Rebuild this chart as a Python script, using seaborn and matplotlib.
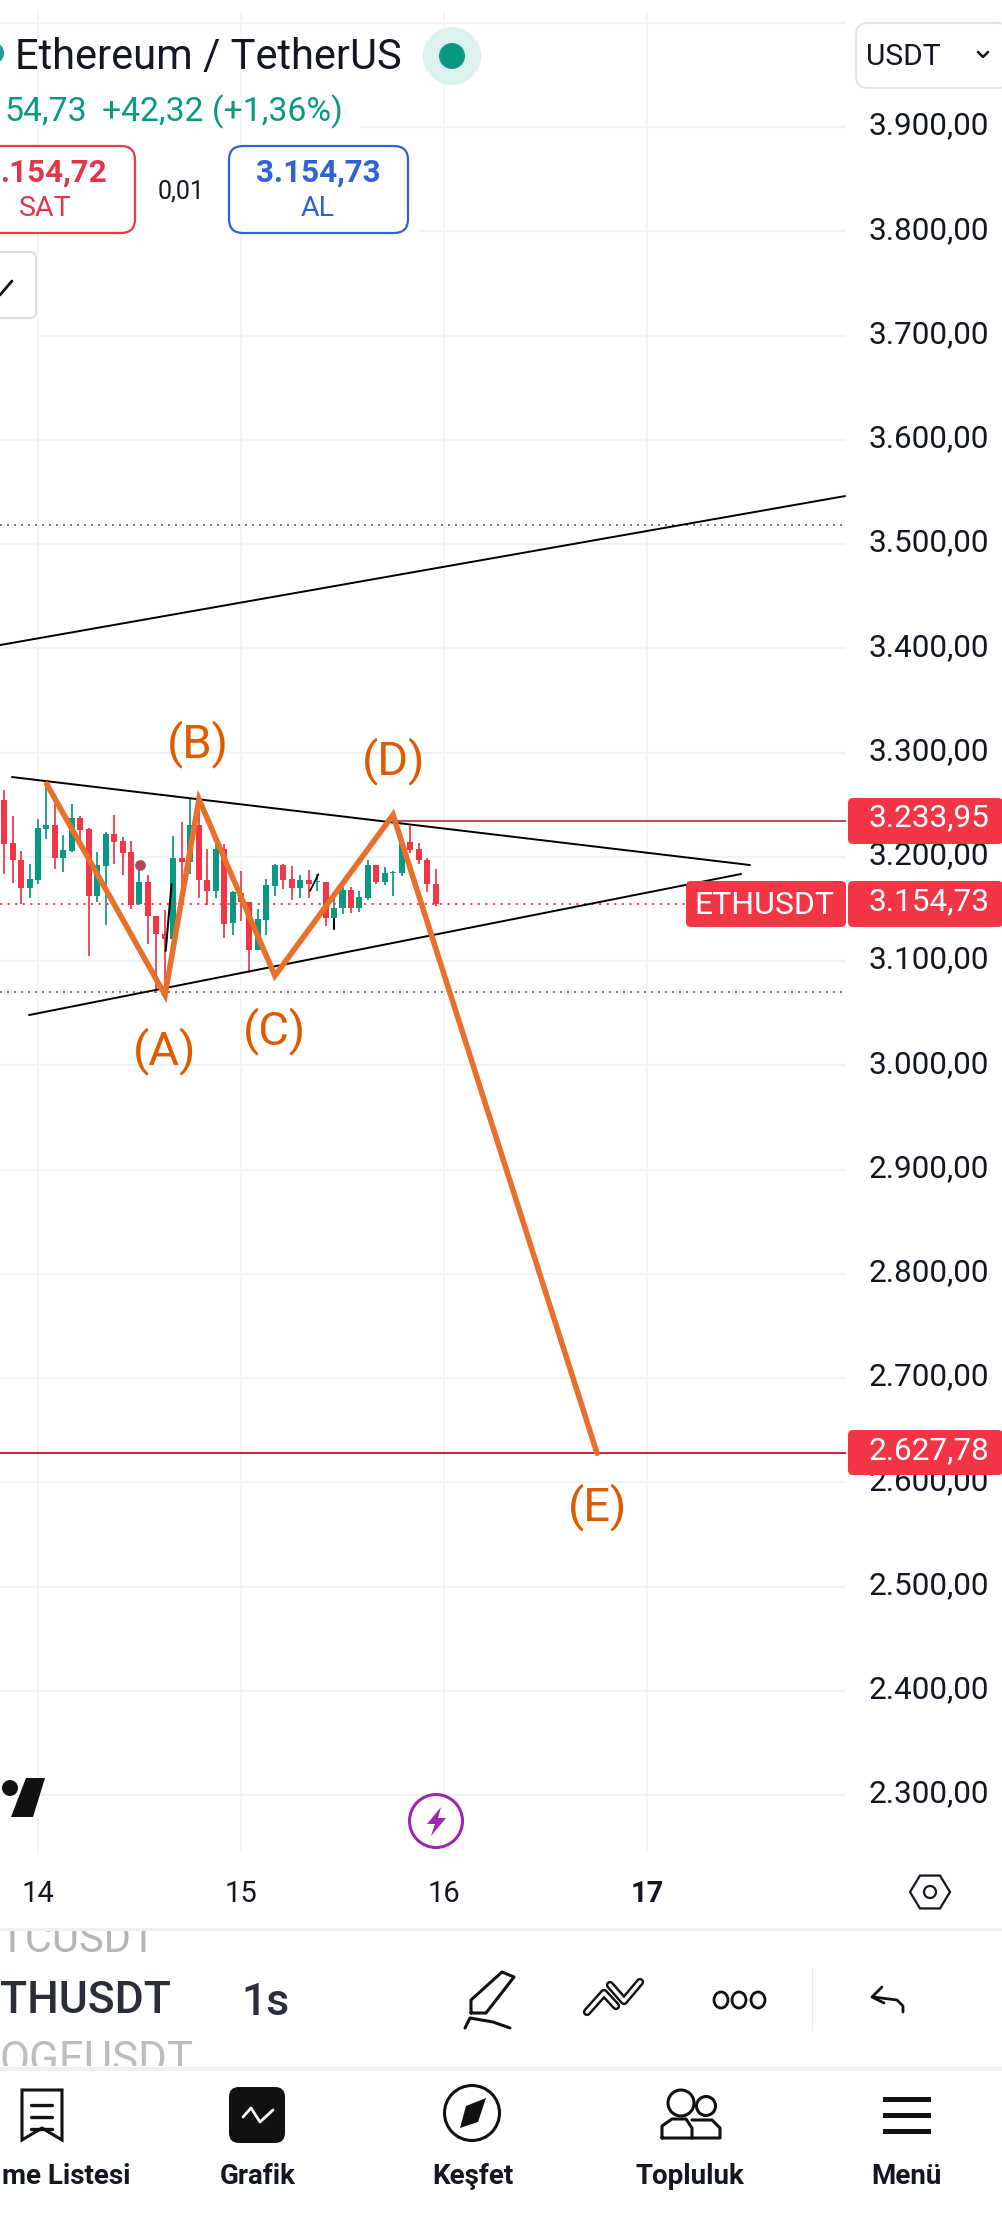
import numpy as np
import pandas as pd
import matplotlib
matplotlib.use("Agg")
import matplotlib.pyplot as plt
from matplotlib.patches import Circle, Ellipse, FancyBboxPatch, Polygon, Rectangle
from matplotlib.transforms import Bbox, ScaledTranslation, TransformedBbox
import seaborn as sns

# hourly candles, first one is 4 hours before the "14" tick
candle_hours = list(range(-4, 48))
candle_open = [3254.2, 3213.3, 3196.7, 3170.4, 3178.1, 3226.7, 3230.6, 3199.2, 3205.6, 3237.0,
               3226.7, 3162.1, 3191.5, 3221.6, 3215.2, 3204.7, 3154.4, 3175.6, 3143.0, 3125.7,
               3120.9, 3199.2, 3195.4, 3230.6, 3178.1, 3167.2, 3207.2, 3136.2, 3165.6, 3156.7,
               3111.0, 3139.7, 3172.4, 3192.2, 3178.4, 3170.4, 3177.5, 3175.6, 3175.6, 3141.7,
               3151.3, 3167.9, 3151.3, 3160.8, 3191.9, 3176.2, 3184.8, 3184.5, 3213.9, 3207.2,
               3196.7, 3173.6]
candle_close = [3212.7, 3196.7, 3170.4, 3178.4, 3227.4, 3230.6, 3199.2, 3206.3, 3237.0, 3226.1,
                3162.1, 3192.2, 3221.6, 3214.6, 3204.0, 3153.8, 3175.9, 3143.0, 3125.7, 3120.9,
                3199.2, 3195.4, 3230.6, 3178.1, 3167.2, 3207.2, 3135.9, 3166.0, 3156.7, 3111.0,
                3140.0, 3173.0, 3192.2, 3178.1, 3170.4, 3177.5, 3174.3, 3176.5, 3141.7, 3151.3,
                3167.9, 3151.3, 3161.5, 3192.2, 3176.2, 3184.8, 3185.8, 3214.6, 3206.9, 3196.7,
                3173.6, 3154.73]
candle_high = [3264.1, 3239.2, 3205.6, 3192.8, 3236.0, 3271.8, 3250.4, 3221.0, 3250.4, 3239.2,
               3227.4, 3204.7, 3224.2, 3240.2, 3219.0, 3215.2, 3192.2, 3182.6, 3143.0, 3148.7,
               3220.0, 3233.1, 3256.1, 3246.6, 3207.2, 3219.4, 3212.0, 3167.2, 3186.4, 3156.7,
               3149.7, 3178.4, 3192.8, 3192.8, 3190.9, 3182.6, 3187.1, 3183.9, 3176.2, 3164.0,
               3171.1, 3171.1, 3167.2, 3196.7, 3192.2, 3190.3, 3186.4, 3219.0, 3229.6, 3213.3,
               3199.2, 3188.0]
candle_low = [3183.9, 3175.2, 3154.4, 3160.2, 3174.3, 3216.8, 3188.0, 3185.8, 3205.0, 3216.8,
              3104.6, 3157.0, 3134.3, 3193.5, 3182.6, 3150.3, 3153.8, 3116.7, 3069.7, 3069.7,
              3108.1, 3152.9, 3183.2, 3160.8, 3153.8, 3160.2, 3122.5, 3124.7, 3138.5, 3088.9,
              3110.3, 3124.7, 3162.8, 3168.8, 3158.9, 3160.8, 3160.8, 3167.2, 3134.0, 3130.5,
              3144.9, 3146.1, 3147.4, 3158.9, 3173.6, 3173.0, 3162.8, 3181.9, 3204.0, 3192.8,
              3166.6, 3152.5]

wave_days = [14.043, 14.626, 14.793, 15.167, 15.749, 16.754]
wave_prices = [3269.8, 3067.4, 3255.2, 3085.9, 3240.2, 2627.78]
wave_labels = ["(A)", "(B)", "(C)", "(D)", "(E)"]
wave_label_days = [14.625, 14.79, 15.165, 15.75, 16.755]
wave_label_prices = [3014, 3308, 3033, 3292, 2576]

upper_days = [13.872, 17.507]
upper_prices = [3276.5, 3192.1]
lower_days = [13.956, 17.463]
lower_prices = [3048.2, 3183.5]
channel_days = [13.813, 17.975]
channel_prices = [3403.1, 3546.0]

last_price = 3154.73
target_high = 3233.95
target_low = 2627.78
dotted_levels = [3518, 3070]

price_ticks = [3900, 3800, 3700, 3600, 3500, 3400, 3300, 3200, 3100, 3000,
               2900, 2800, 2700, 2600, 2500, 2400, 2300]
price_tick_labels = ["3.900,00", "3.800,00", "3.700,00", "3.600,00", "3.500,00", "3.400,00",
                     "3.300,00", "3.200,00", "3.100,00", "3.000,00", "2.900,00", "2.800,00",
                     "2.700,00", "2.600,00", "2.500,00", "2.400,00", "2.300,00"]
day_ticks = [14, 15, 16, 17]
day_tick_labels = ["14", "15", "16", "17"]

RED = "#F23645"
GREEN = "#089981"
ORANGE = "#E8702A"
LABEL_ORANGE = "#E05A00"
INK = "#131722"
GRID = "#F1F2F4"

sns.set_theme(style="white")
plt.rcParams["font.family"] = ["Roboto", "DejaVu Sans"]

fig = plt.figure(figsize=(10.03, 22.28), dpi=100, facecolor="white")
ax = fig.add_axes([0, (2228 - 1853) / 2228, 846 / 1003, (1853 - 11) / 2228], zorder=1)

candles = pd.DataFrame({"hour": candle_hours, "open": candle_open, "close": candle_close,
                        "high": candle_high, "low": candle_low})
candles["day"] = 14 + candles["hour"] / 24
candles["color"] = np.where(candles["close"] >= candles["open"], GREEN, RED)

# grid, the horizontal lines stop behind the header
ax.vlines(day_ticks, 2000, 4011.3, color=GRID, lw=1.1, zorder=0)
grid_start = {3900: 14.0 + (360 - 38) / 203, 3800: 14.0 + (419 - 38) / 203, 3700: 14.0}
for p in price_ticks + [4000]:
    ax.hlines(p, grid_start.get(p, 13.8), 18, color=GRID, lw=1.6, zorder=0)

ax.vlines(candles["day"], candles["low"], candles["high"], colors=candles["color"], lw=1.25, zorder=2)
ax.bar(candles["day"], (candles["close"] - candles["open"]).abs().clip(lower=1),
       bottom=candles[["open", "close"]].min(axis=1), width=0.0296,
       color=candles["color"], linewidth=0, zorder=3)
sns.scatterplot(x=[14.502], y=[3192.2], color="#B0495F", s=60, linewidth=0, legend=False, ax=ax, zorder=4)

# small black drawings left on the candles
sns.lineplot(x=[14.629, 14.658], y=[3109.7, 3173.6], color="black", lw=1.5, estimator=None, ax=ax, zorder=4)
sns.lineplot(x=[15.340, 15.381], y=[3167.2, 3183.2], color="black", lw=1.2, estimator=None, ax=ax, zorder=4)
sns.lineplot(x=[15.458, 15.458], y=[3140.0, 3130.5], color="black", lw=1.5, estimator=None, ax=ax, zorder=4)

for lvl in dotted_levels:
    ax.axhline(lvl, color="#5F6368", lw=1.2, ls=(0, (1.2, 3)), zorder=4)
ax.axhline(last_price, color=RED, lw=1.3, ls=(0, (1.2, 3)), zorder=4)
ax.hlines(target_high, wave_days[4], 18, color="#B84F5C", lw=1.5, zorder=4)
ax.axhline(target_low, color="#C9274A", lw=1.5, zorder=4)

for xs, ys in [(upper_days, upper_prices), (lower_days, lower_prices), (channel_days, channel_prices)]:
    sns.lineplot(x=xs, y=ys, color="black", lw=1.4, estimator=None, ax=ax, zorder=5)

sns.lineplot(x=wave_days, y=wave_prices, color=ORANGE, lw=4, sort=False, estimator=None,
             solid_joinstyle="miter", ax=ax, zorder=6)
for lab, d, p in zip(wave_labels, wave_label_days, wave_label_prices):
    ax.text(d, p, lab, color=LABEL_ORANGE, fontsize=34, ha="center", va="center", zorder=7)

ax.set_xlim(13.813, 17.980)
ax.set_ylim(2244.4, 4011.3)
ax.set_yticks(price_ticks)
ax.set_yticklabels(price_tick_labels)
ax.set_xticks(day_ticks)
ax.set_xticklabels(day_tick_labels)
ax.set_xlabel("")
ax.set_ylabel("")
ax.yaxis.tick_right()
ax.tick_params(axis="y", length=0, pad=16.5, labelsize=22.7, labelcolor=INK)
ax.tick_params(axis="x", length=0, pad=19.5, labelsize=21, labelcolor=INK)
ax.get_xticklabels()[3].set_fontweight("bold")
up_4px = ScaledTranslation(0, 4 / 100, fig.dpi_scale_trans)
for t in ax.get_yticklabels():
    t.set_transform(t.get_transform() + up_4px)
sns.despine(ax=ax, left=True, bottom=True, right=True, top=True)

# app chrome, in pixels of the screenshot
ui = fig.add_axes([0, 0, 1, 1], zorder=5)
ui.set_xlim(0, 1003)
ui.set_ylim(2228, 0)
ui.axis("off")
ui.patch.set_alpha(0)


def box(x0, y0, x1, y1, edge="none", face="none", lw=1.5, r=12, z=6):
    p = FancyBboxPatch((x0 + r, y0 + r), x1 - x0 - 2 * r, y1 - y0 - 2 * r,
                       boxstyle=f"round,pad={r},rounding_size={r}", ec=edge, fc=face, lw=lw, zorder=z)
    ui.add_patch(p)


def label(x, y, s, size, color=INK, ha="center", weight="normal", alpha=1.0, z=8):
    return ui.text(x, y, s, fontsize=size, color=color, ha=ha, va="center", fontweight=weight, alpha=alpha, zorder=z)


def stroke(pts, lw=2.2, color="#111111", z=8):
    xs, ys = zip(*pts)
    ui.plot(xs, ys, color=color, lw=lw, solid_capstyle="round", solid_joinstyle="round", zorder=z)


# header
ui.add_patch(Circle((-7, 53), 11, fc="#1B9E8F", ec="none", zorder=7))
label(15, 57, "Ethereum / TetherUS", 30, ha="left")
ui.add_patch(Circle((452, 56), 29, fc="#DDF1EF", ec="none", zorder=6))
ui.add_patch(Circle((452, 56), 13, fc=GREEN, ec="none", zorder=7))
label(4, 112, "54,73", 24.3, color=GREEN, ha="left")
label(102, 112, "+42,32 (+1,36%)", 24.3, color=GREEN, ha="left")

box(-30, 146, 135, 233, edge=RED, face="white", lw=1.6, r=14)
label(107, 173, ".154,72", 22.6, color="#E0364A", ha="right", weight="bold")
label(45, 208, "SAT", 20.5, color="#E0364A")
label(181, 191, "0,01", 18)
box(229, 146, 408, 233, edge="#2F62D6", face="white", lw=1.6, r=14)
label(318, 173, "3.154,73", 22.6, color="#2F62D6", weight="bold")
label(318, 208, "AL", 20.5, color="#2F62D6")

box(856, 23, 1010, 88, edge="#E4E4E4", face="white", lw=1.5, r=12)
label(866, 57, "USDT", 21.5, ha="left")
stroke([(978, 52), (983, 57), (988, 52)], lw=1.8)
box(-30, 252, 36, 318, edge="#DDDDDD", face="white", lw=1.5, r=6)
stroke([(0, 295), (12, 281)], lw=2)

# tags on the price scale
for top, bottom, txt, ty in [(798, 844, "3.233,95", 818), (881, 927, "3.154,73", 902), (1430, 1475, "2.627,78", 1451)]:
    box(848, top, 1003, bottom, face=RED, r=5)
    label(869, ty, txt, 22.7, color="white", ha="left")
box(686, 881, 846, 927, face=RED, r=5)
label(764, 905, "ETHUSDT", 23, color="white")

# logo, bolt, settings
ui.add_patch(Circle((10, 1788), 8, fc="#111111", ec="none", zorder=6))
ui.add_patch(Polygon([(26, 1778), (45, 1778), (33, 1817), (11, 1817)], fc="#111111", ec="none", zorder=6))
ui.add_patch(Circle((436, 1821), 26.5, fc="white", ec="#9C27B0", lw=2.2, zorder=6))
ui.add_patch(Polygon([(441, 1807), (427, 1824), (435, 1824), (431, 1836), (446, 1818), (438, 1818)], fc="#9C27B0", ec="none", zorder=7))
hex_t = np.deg2rad(np.arange(0, 360, 60))
ui.add_patch(Polygon(np.c_[930 + 20 * np.cos(hex_t), 1892 + 19 * np.sin(hex_t)], fc="none", ec=INK, lw=1.6, zorder=7))
ui.add_patch(Circle((930, 1892), 6, fc="none", ec=INK, lw=1.6, zorder=7))

# toolbar with the symbol wheel, top and bottom names are cut off
ui.add_patch(Rectangle((0, 1928), 1003, 3, fc="#F0F0F0", ec="none", zorder=6))
ui.add_patch(Rectangle((0, 2067), 1003, 4, fc="#F0F0F0", ec="none", zorder=6))
top_name = label(0, 1940, "TCUSDT", 30, color="#B5B5B5", ha="left", z=5)
top_name.set_clip_box(TransformedBbox(Bbox([[0, 1931], [300, 1975]]), ui.transData))
top_name.set_clip_on(True)
label(0, 2001, "THUSDT", 32, color="#2A2E39", ha="left", weight="medium")
label(241, 2003, "1s", 32, color="#2A2E39", ha="left", weight="medium")
low_name = label(0, 2061, "OGEUSDT", 31.5, color="#BDBDBD", ha="left", z=5)
low_name.set_clip_box(TransformedBbox(Bbox([[0, 2030], [300, 2066]]), ui.transData))
low_name.set_clip_on(True)

# pencil
stroke([(471, 2013), (471, 2000), (502, 1972), (514, 1977), (486, 2013), (471, 2013)], lw=2.2)
stroke([(465, 2028), (470, 2018), (493, 2022), (510, 2028)], lw=2.2)
# line tools
for pts in ([(587, 2012), (604, 1993), (616, 2006)], [(610, 1985), (624, 2001), (640, 1982)]):
    stroke(pts, lw=6, z=7)
    stroke(pts, lw=2.5, color="white", z=8)
for cx in [721, 739, 758]:
    ui.add_patch(Ellipse((cx, 2000), 14, 16, fc="white", ec="#111111", lw=2, zorder=7))
ui.add_patch(Rectangle((812, 1968), 1.5, 63, fc="#EEEEEE", ec="none", zorder=6))
stroke([(882, 1987), (872, 1997), (884, 2003)], lw=2)
stroke([(873, 1997), (897, 2000), (903, 2006), (903, 2012)], lw=2)

# bottom navigation
label(131, 2176, "me Listesi", 20, ha="right", weight="bold")
for cx, txt in [(258, "Grafik"), (473, "Keşfet"), (690, "Topluluk"), (906, "Menü")]:
    label(cx, 2176, txt, 20, weight="bold")
ui.add_patch(Polygon([(22, 2090), (62, 2090), (62, 2140), (42, 2128), (22, 2140)], fc="none", ec="#111111", lw=2.2, zorder=7))
for ly in [2105, 2117, 2129]:
    stroke([(31, ly), (52, ly)], lw=2.4)
box(229, 2087, 285, 2143, face="#111111", r=10)
stroke([(243, 2117), (251, 2108), (260, 2122), (273, 2110)], lw=2, color="white")
ui.add_patch(Circle((472, 2113), 27.5, fc="white", ec="#111111", lw=2.2, zorder=7))
ui.add_patch(Polygon([(486, 2098), (478, 2122), (460, 2128), (466, 2106)], fc="#111111", ec="none", zorder=8))
ui.add_patch(Circle((681, 2103), 13, fc="white", ec="#111111", lw=2.2, zorder=8))
ui.add_patch(Circle((706, 2106), 9.5, fc="white", ec="#111111", lw=2.2, zorder=8))
stroke([(662, 2138), (662, 2126), (672, 2119), (686, 2119), (692, 2128), (692, 2138), (662, 2138)], lw=2.2)
stroke([(692, 2120), (712, 2120), (720, 2128), (720, 2138), (692, 2138)], lw=2.2)
for ly in [2099, 2115, 2131]:
    ui.add_patch(Rectangle((883, ly - 2.5), 48, 5, fc="#111111", ec="none", zorder=7))

fig.savefig("out.png", dpi=100, facecolor="white")
